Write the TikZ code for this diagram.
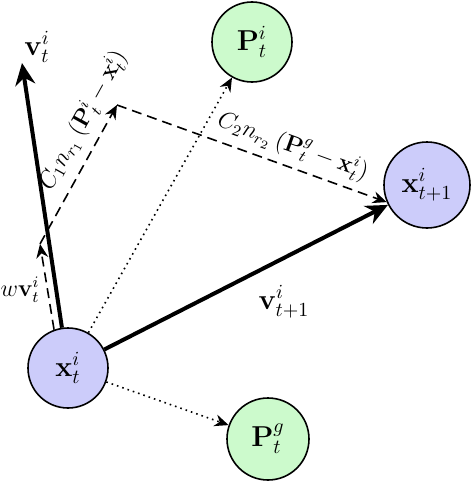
\documentclass[tikz,border=0pt]{standalone}
\usepackage{amsmath,amssymb}
\usepackage{xcolor}
\usepackage{tikz}
\usetikzlibrary{arrows.meta,calc}
\definecolor{particleblue}{RGB}{204,204,250}
\definecolor{bestgreen}{RGB}{204,250,204}

\tikzset{
    particle/.style={circle, draw, thick, fill=particleblue, inner sep=0pt, minimum size=40pt, font=\Large},
    best/.style={circle, draw, thick, fill=bestgreen, inner sep=0pt, minimum size=40pt, font=\Large},
    velocity/.style={line width=2pt, -{Stealth[length=11pt,width=10pt]}},
    component/.style={thick, dash pattern=on 5pt off 3pt, -{Stealth[length=7pt,width=6pt]}},
    towards/.style={thick, dotted, -{Stealth[length=7pt,width=6pt]}},
    lab/.style={font=\large}
}

\begin{document}
\begin{tikzpicture}[x=0.5pt, y=-0.5pt]
    \useasboundingbox (0,0) rectangle (474,482);

    % Positions and bests
    \node[particle] (xt) at (68,368) {$\mathbf{x}_t^i$};
    \node[particle, minimum size=43pt] (xtnext) at (427,185) {$\mathbf{x}_{t+1}^i$};
    \node[best] (pbest) at (252,42) {$\mathbf{P}_t^i$};
    \node[best, minimum size=41pt] (gbest) at (268,439) {$\mathbf{P}_t^g$};

    % Free ends of the velocity parts
    \coordinate (vtip) at (22,63);
    \coordinate (inertia) at (40,244);
    \coordinate (cognitive) at (117,105);

    % Old velocity
    \draw[velocity] (xt) -- (vtip);
    \node[font=\Large] (vlab) at (37,47) {$\mathbf{v}_t^i$};

    % Velocity components
    \draw[component] (xt.110) -- (inertia);
    \node[font=\large] (wlab) at (20,290) {$w\mathbf{v}_t^i$};
    \draw[component] (inertia) -- (cognitive);
    \node[lab, rotate=61] (c1lab) at (83,120) {$C_1 n_{r_1}\left(\mathbf{P}_t^i - \mathbf{x}_t^i\right)$};
    \draw[component] (cognitive) -- (xtnext.203);
    \node[lab, rotate=-20] (c2lab) at (293,146) {$C_2 n_{r_2}\left(\mathbf{P}_t^g - \mathbf{x}_t^i\right)$};

    % Towards the bests
    \draw[towards] (xt.60) -- (pbest);
    \draw[towards] (xt.-20) -- (gbest);

    % New velocity
    \draw[velocity] (xt) -- (xtnext);
    \node[font=\Large] (vnlab) at (284,302) {$\mathbf{v}_{t+1}^i$};
\end{tikzpicture}
\end{document}
